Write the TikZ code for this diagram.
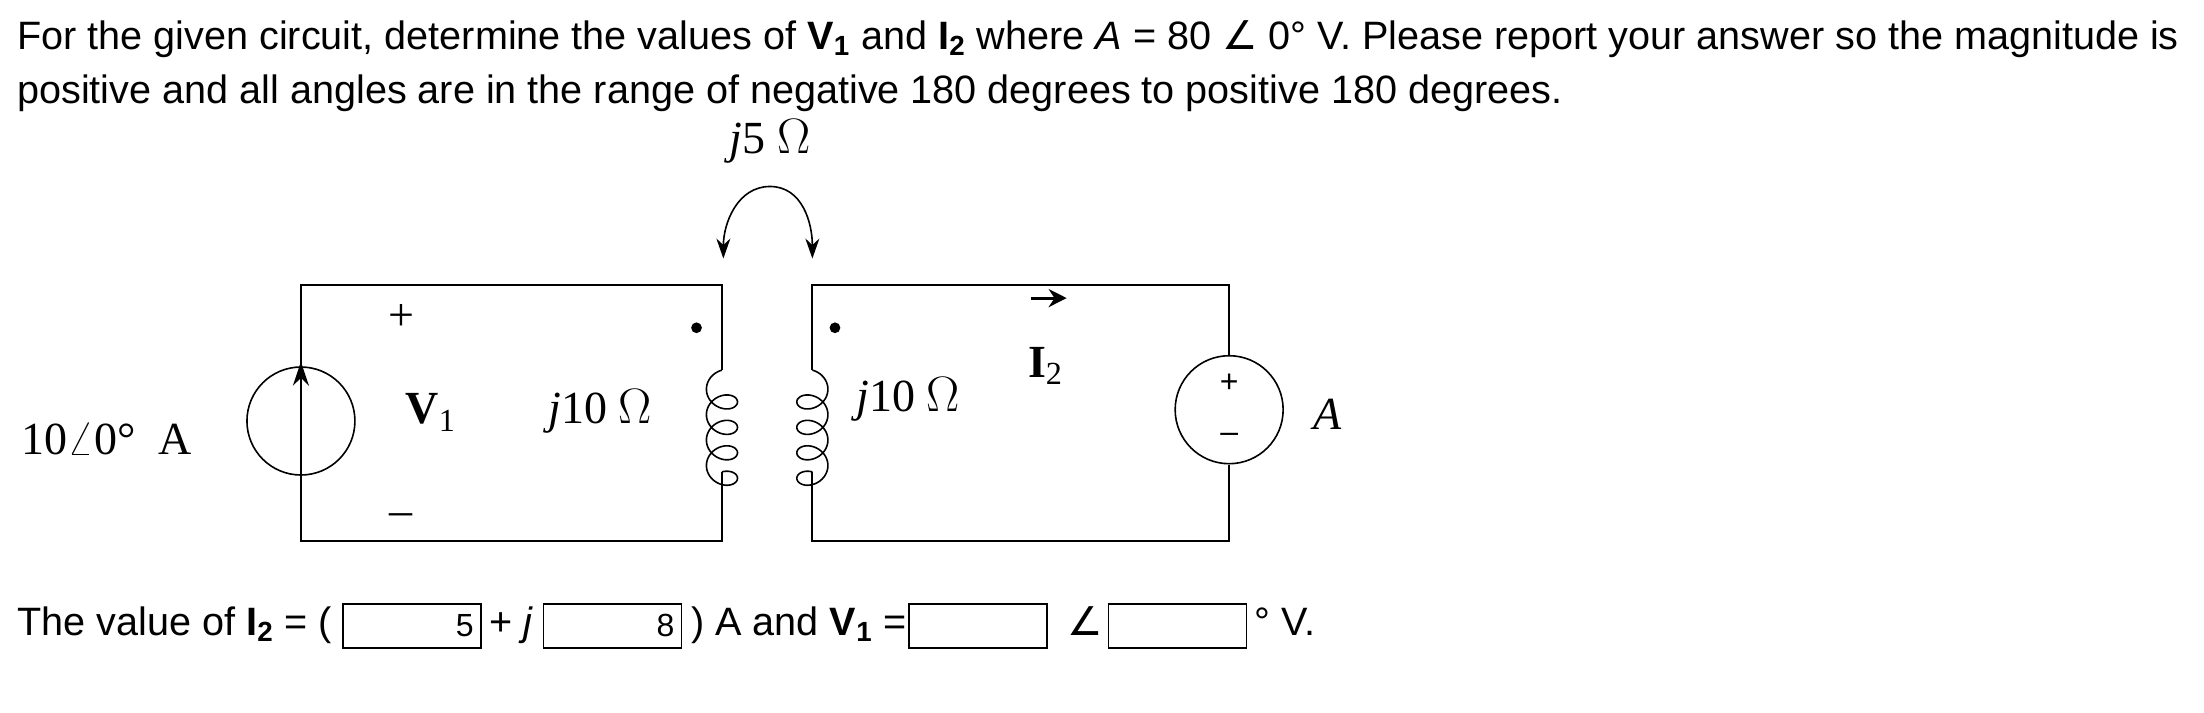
\documentclass[tikz,border=0pt]{standalone}
\usepackage{fontspec}
\setmainfont{Liberation Sans}
\newfontfamily\ser{Liberation Serif}
\newfontfamily\dv{DejaVu Sans}
\usetikzlibrary{arrows.meta}
\begin{document}
\begin{tikzpicture}[x=0.7065pt,y=-0.7065pt,
  wire/.style={line width=1.1pt},
  ans/.style={draw,line width=0.9pt,minimum width=69pt,minimum height=22pt,inner sep=2pt,anchor=west,align=right,text width=62pt,font=\fontsize{16}{19}\selectfont},
  ct/.style={font=\ser\fontsize{23}{26}\selectfont},
  tt/.style={font=\fontsize{19.8}{23}\selectfont,anchor=base west,inner sep=0pt}]
\useasboundingbox (0,0) rectangle (1560,504);
\node[tt] (t1) at (12,35) {For the given circuit, determine the values of \textbf{V\textsubscript{1}} and \textbf{I\textsubscript{2}} where \textit{A} = 80 {\dv ∠} 0° V. Please report your answer so the magnitude is};
\node[tt] (t2) at (12,73) {positive and all angles are in the range of negative 180 degrees to positive 180 degrees.};
% circuit
\node[ct] (m) at (545,100) {\textit{j}5 $\Omega$};
\coordinate (a1) at (512,183); \coordinate (a2) at (575,183);
\draw[-{Stealth[length=10pt,width=7pt]},line width=0.8pt] (545,132) .. controls (522,132) and (512,158) .. (a1);
\draw[-{Stealth[length=10pt,width=7pt]},line width=0.8pt] (545,132) .. controls (568,132) and (575,158) .. (a2);
\node[draw,circle,minimum size=54pt,line width=0.8pt] (cs) at (213,298) {};
\draw[-{Stealth[length=12pt,width=8pt]},line width=1.2pt] (cs.south) -- (213,256);
\node[draw,circle,minimum size=54pt,line width=0.8pt] (vs) at (870,290) {};
\node at (870,271) {\fontsize{16}{16}\selectfont +};
\node at (870,310) {\fontsize{16}{16}\selectfont \textendash};
\coordinate (lt) at (511,262); \coordinate (lb) at (511,334);
\coordinate (rt) at (575,262); \coordinate (rb) at (575,334);
\draw[wire] (cs.north) -- (213,202) -- (511,202) -- (lt);
\draw[wire] (lb) -- (511,383) -- (213,383) -- (cs.south);
\draw[wire] (rt) -- (575,202) -- (870,202) -- (vs.north);
\draw[wire] (rb) -- (575,383) -- (870,383) -- (vs.south);
\draw[line width=0.8pt] plot[domain=0:1440,samples=200,smooth] ({511-11*sin(\x)},{262+\x/20-9*cos(\x)+9});
\draw[line width=0.8pt] plot[domain=0:1440,samples=200,smooth] ({575+11*sin(\x)},{262+\x/20-9*cos(\x)+9});
\fill (493,232) circle (3.8);
\fill (591,232) circle (3.8);
\node[ct] (pl) at (284,225) {+};
\node[ct] (v1) at (305,292) {\textbf{V}\textsubscript{1}};
\node[ct] (mi) at (284,368) {\textendash};
\node[ct] (l1) at (425,291) {\textit{j}10 $\Omega$};
\node[ct] (l2) at (643,283) {\textit{j}10 $\Omega$};
\draw[-{Stealth[length=9pt,width=9pt]},line width=1.6pt] (730,211) -- (755,211);
\node[ct] (i2) at (740,259) {\textbf{I}\textsubscript{2}};
\node[ct] (av) at (940,293) {\textit{A}};
\node[ct,anchor=west] (src) at (10,311) {10$\angle$0°\ \ A};
% answer line
\node[tt] (b1) at (12,450) {The value of \textbf{I\textsubscript{2}} = (};
\node[ans] (x1) at (242,443) {5};
\node[tt] (b2) at (346,450) {+ \textit{j}};
\node[ans] (x2) at (384,443) {8};
\node[tt] (b3) at (489,450) {) A and \textbf{V\textsubscript{1}} =};
\node[ans] (x3) at (643,443) {};
\node[tt] (b4) at (755,450) {{\dv ∠}};
\node[ans] (x4) at (784,443) {};
\node[tt] (b5) at (888,450) {° V.};
\end{tikzpicture}
\end{document}
